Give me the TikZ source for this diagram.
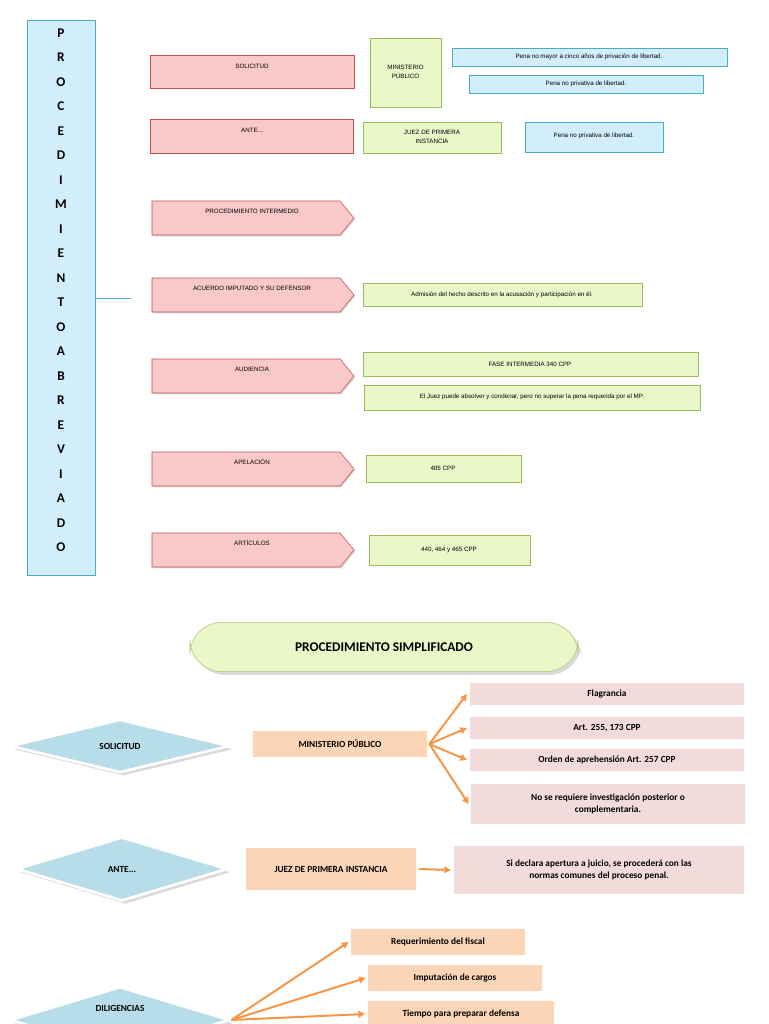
\documentclass[tikz,border=0pt]{standalone}
\usepackage{fontspec}
\setmainfont{Carlito}
\newfontfamily\narrowf{Liberation Sans}[Scale=0.85]
\usetikzlibrary{shapes.geometric,arrows.meta,shadows}
\definecolor{redf}{HTML}{F9C9CA}\definecolor{redd}{HTML}{C0504D}
\definecolor{grnf}{HTML}{EAF7C9}\definecolor{grnd}{HTML}{9BBB59}
\definecolor{bluf}{HTML}{D2EEFA}\definecolor{blud}{HTML}{4BACC6}
\definecolor{orf}{HTML}{FBD5B5}\definecolor{ord}{HTML}{F79646}
\definecolor{pkf}{HTML}{F2DCDB}\definecolor{dia}{HTML}{B7DDE8}
\tikzset{x=0.75pt,y=-0.75pt,
 redbox/.style={draw=redd,fill=redf,drop shadow={opacity=0.3,shadow xshift=1pt,shadow yshift=-1pt}},
 grnbox/.style={draw=grnd,fill=grnf,drop shadow={opacity=0.3,shadow xshift=1pt,shadow yshift=-1pt}},
 blubox/.style={draw=blud,fill=bluf,drop shadow={opacity=0.3,shadow xshift=1pt,shadow yshift=-1pt}},
 orbox/.style={draw=white,line width=2pt,fill=orf,drop shadow={opacity=0.35,shadow xshift=1pt,shadow yshift=-1pt}},
 pkbox/.style={draw=white,line width=2pt,fill=pkf,drop shadow={opacity=0.35,shadow xshift=1pt,shadow yshift=-1pt}},
 sm/.style={font=\narrowf\fontsize{5.5}{6.5}\selectfont,align=center},
 lbl/.style={font=\fontsize{7}{9}\selectfont\bfseries,align=center},
 oarr/.style={draw=ord,line width=1.5pt,-{Triangle[length=5pt,width=5pt]}}}
\begin{document}
\begin{tikzpicture}
\useasboundingbox (0,0) rectangle (768,1024);
\clip (0,0) rectangle (768,1024);
% left vertical box
\draw[blubox] (27,20) rectangle (95,575);
\node (vt) at (61,33) {};
\foreach \l [count=\i from 0] in {P,R,O,C,E,D,I,M,I,E,N,T,O,A,B,R,E,V,I,A,D,O}
  \node[font=\fontsize{10}{10}\selectfont\bfseries] at (61,{33+\i*24.5}) {\l};
\coordinate (vline) at (131,298);
\draw[blud] (95,298) -- (vline);
% red rectangles
\draw[redbox] (150,55) rectangle (354,88); \node[sm] (s1) at (252,66) {SOLICITUD};
\draw[redbox] (150,119) rectangle (353,153); \node[sm] (s2) at (252,130) {ANTE...};
\foreach \y/\t in {201/PROCEDIMIENTO INTERMEDIO,278/ACUERDO IMPUTADO Y SU DEFENSOR,359/AUDIENCIA,452/APELACIÓN,533/ARTÍCULOS}{
 \draw[redbox] (152,\y) -- (340,\y) -- (354,\y+17) -- (340,\y+34) -- (152,\y+34) -- cycle;
 \node[sm] at (252,\y+10) {\t};}
% green
\draw[grnbox] (370,38) rectangle (441,107); \node[sm] at (405.5,72) {MINISTERIO\\PÚBLICO};
\draw[grnbox] (363,122) rectangle (501,153); \node[sm] at (432,137) {JUEZ DE PRIMERA\\INSTANCIA};
\draw[grnbox] (363,283) rectangle (642,306); \node[sm] at (502,295) {Admisión del hecho descrito en la acusación y participación en él.};
\draw[grnbox] (363,352) rectangle (698,376); \node[sm] at (530,364) {FASE INTERMEDIA 340 CPP};
\draw[grnbox] (364,385) rectangle (700,410); \node[sm] at (532,397) {El Juez puede absolver y condenar, pero no superar la pena requerida por el MP.};
\draw[grnbox] (366,455) rectangle (521,482); \node[sm] at (443,468) {405 CPP};
\draw[grnbox] (369,535) rectangle (530,565); \node[sm] at (449,550) {440, 464 y 465 CPP};
% blue
\draw[blubox] (452,48) rectangle (727,66); \node[sm] at (589,57) {Pena no mayor a cinco años de privación de libertad.};
\draw[blubox] (469,75) rectangle (703,93); \node[sm] at (586,84) {Pena no privativa de libertad.};
\draw[blubox] (525,122) rectangle (663,152); \node[sm] at (594,136) {Pena no privativa de libertad.};
% bottom title
\node[draw=grnd!80,fill=grnf,rounded corners=24pt,minimum width=291pt,minimum height=37pt,font=\fontsize{10}{12}\selectfont\bfseries,drop shadow={opacity=0.3}] (title) at (384,647) {PROCEDIMIENTO SIMPLIFICADO};
% diamonds
\tikzset{dmd/.style={diamond,aspect=4,fill=dia,draw=white,line width=2pt,inner sep=0pt,drop shadow={opacity=0.3},lbl}}
\node[dmd,minimum width=165pt,minimum height=40pt] (d1) at (120,746) {SOLICITUD};
\node[dmd,minimum width=158pt,minimum height=48pt] (d2) at (122,869) {ANTE...};
\node[dmd,minimum width=165pt,minimum height=50pt] (d3) at (120,1020) {};
\node[lbl] at (120,1008) {DILIGENCIAS};
% orange boxes
\node[orbox,lbl,minimum width=132pt,minimum height=22pt] (mp) at (340,744) {MINISTERIO PÚBLICO};
\node[orbox,lbl,minimum width=130pt,minimum height=34pt] (jz) at (331,869) {JUEZ DE PRIMERA INSTANCIA};
\node[orbox,lbl,minimum width=132pt,minimum height=21pt] (r1) at (438,942) {Requerimiento del fiscal};
\node[orbox,lbl,minimum width=132pt,minimum height=22pt] (r2) at (455,978) {Imputación de cargos};
\node[orbox,lbl,minimum width=142pt,minimum height=22pt] (r3) at (461,1014) {Tiempo para preparar defensa};
% pink
\node[pkbox,lbl,minimum width=208pt,minimum height=18pt] (p1) at (607,694) {Flagrancia};
\node[pkbox,lbl,minimum width=208pt,minimum height=18pt] (p2) at (607,728) {Art. 255, 173 CPP};
\node[pkbox,lbl,minimum width=208pt,minimum height=18pt] (p3) at (607,760) {Orden de aprehensión Art. 257 CPP};
\node[pkbox,lbl,minimum width=207pt,minimum height=32pt] (p4) at (608,804) {No se requiere investigación posterior o\\complementaria.};
\node[pkbox,lbl,minimum width=220pt,minimum height=38pt] (p5) at (599,870) {Si declara apertura a juicio, se procederá con las\\normas comunes del proceso penal.};
% arrows
\foreach \t in {p1,p2,p3,p4}\draw[oarr] (mp.east) -- (\t.west);
\draw[oarr] (jz.east) -- (p5.west);
\foreach \t in {r1,r2,r3}\draw[oarr] (d3.east) -- (\t.west);
\end{tikzpicture}
\end{document}
